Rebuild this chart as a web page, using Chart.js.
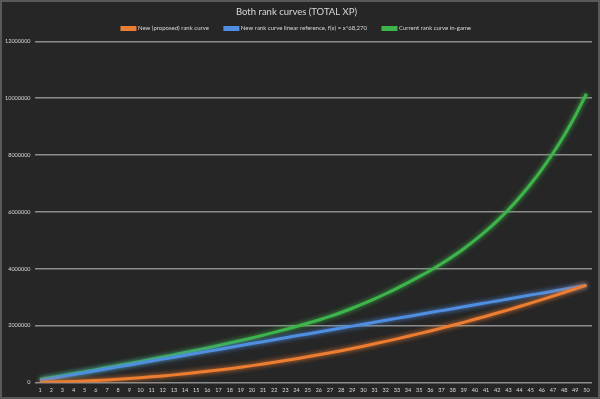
<!DOCTYPE html>
<html>
<head>
<meta charset="utf-8">
<script src="https://cdn.jsdelivr.net/npm/chart.js@4.4.1/dist/chart.umd.min.js"></script>
<style>
  html, body { margin: 0; padding: 0; background: #262626; }
  #wrap { width: 600px; height: 399px; }
</style>
</head>
<body>
<div id="wrap"><canvas id="rankChart"></canvas></div>
<script>
// levels 1..50
const levels = Array.from({ length: 50 }, (_, i) => String(i + 1));

// total XP
const newCurve = [
  5000, 12000, 22000, 35000, 50000, 68000, 88000, 111000, 137000, 165000,
  196000, 229000, 265000, 304000, 345000, 389000, 435000, 484000, 536000, 590000,
  647000, 706000, 768000, 833000, 900000, 970000, 1042000, 1117000, 1195000, 1275000,
  1358000, 1443000, 1531000, 1622000, 1715000, 1811000, 1909000, 2010000, 2114000, 2220000,
  2329000, 2440000, 2554000, 2671000, 2790000, 2912000, 3036000, 3163000, 3293000, 3425000,
];

// f(x) = x*68,270
const linearRef = [
  68270, 136540, 204810, 273080, 341350, 409620, 477890, 546160, 614430, 682700,
  750970, 819240, 887510, 955780, 1024050, 1092320, 1160590, 1228860, 1297130, 1365400,
  1433670, 1501940, 1570210, 1638480, 1706750, 1775020, 1843290, 1911560, 1979830, 2048100,
  2116370, 2184640, 2252910, 2321180, 2389450, 2457720, 2525990, 2594260, 2662530, 2730800,
  2799070, 2867340, 2935610, 3003880, 3072150, 3140420, 3208690, 3276960, 3345230, 3413500,
];

const currentCurve = [
  100000, 169000, 238000, 308000, 378000, 449000, 521000, 593000, 666000, 740000,
  816000, 892000, 970000, 1049000, 1130000, 1212000, 1297000, 1384000, 1473000, 1565000,
  1661000, 1759000, 1862000, 1969000, 2081000, 2198000, 2321000, 2460000, 2610000, 2770000,
  2940000, 3120000, 3310000, 3510000, 3720000, 3940000, 4175000, 4430000, 4705000, 5005000,
  5330000, 5685000, 6075000, 6505000, 6980000, 7500000, 8065000, 8690000, 9385000, 10157000,
];

const yTicks = [0, 2000000, 4000000, 6000000, 8000000, 10000000, 12000000];

const textColor = "#d9d9d9";
const fontFamily = "Lato, 'Open Sans', sans-serif";

// dark background + frame, like the excel export
const bgPlugin = {
  id: "bg",
  beforeDraw(chart) {
    const ctx = chart.ctx;
    ctx.save();
    ctx.fillStyle = "#262626";
    ctx.fillRect(0, 0, chart.width, chart.height);
    ctx.strokeStyle = "#595959";
    ctx.lineWidth = 2;
    ctx.strokeRect(1, 1, chart.width - 2, chart.height - 2);
    ctx.restore();
  },
};

// soft glow round each line
const glowPlugin = {
  id: "glow",
  beforeDatasetDraw(chart, args) {
    const ctx = chart.ctx;
    ctx.save();
    ctx.shadowColor = args.meta._dataset.borderColor;
    ctx.shadowBlur = 5;
  },
  afterDatasetDraw(chart) {
    chart.ctx.restore();
  },
};

const lineStyle = {
  borderWidth: 3,
  pointRadius: 0,
  cubicInterpolationMode: "monotone",
};

new Chart("rankChart", {
  type: "line",
  data: {
    labels: levels,
    datasets: [
      {
        label: "New (proposed) rank curve",
        data: newCurve,
        borderColor: "#ed7d31",
        backgroundColor: "#ed7d31",
        ...lineStyle,
      },
      {
        label: "New rank curve linear reference, f(x) = x*68,270",
        data: linearRef,
        borderColor: "#4f8ee0",
        backgroundColor: "#4f8ee0",
        ...lineStyle,
      },
      {
        label: "Current rank curve in-game",
        data: currentCurve,
        borderColor: "#3db54a",
        backgroundColor: "#3db54a",
        ...lineStyle,
      },
    ],
  },
  options: {
    responsive: true,
    maintainAspectRatio: false,
    animation: false,
    layout: { padding: { left: 1, right: 8, top: 0, bottom: 0 } },
    plugins: {
      title: {
        display: true,
        text: "Both rank curves (TOTAL XP)",
        color: textColor,
        font: { family: fontFamily, size: 9.5, weight: "normal" },
        padding: { top: 6, bottom: -8 },
      },
      legend: {
        display: true,
        labels: {
          color: textColor,
          font: { family: fontFamily, size: 6 },
          boxWidth: 13,
          boxHeight: 2,
          padding: 16,
        },
      },
      tooltip: { enabled: false },
    },
    scales: {
      y: {
        min: 0,
        max: 12000000,
        afterBuildTicks(axis) {
          axis.ticks = yTicks.map((v) => ({ value: v }));
        },
        ticks: {
          color: textColor,
          font: { family: fontFamily, size: 5.5 },
          padding: 4,
          callback: (v) => String(v),
        },
        grid: { color: "#8c8c8c", lineWidth: 1.5, drawTicks: false },
        border: { display: false },
      },
      x: {
        offset: true,
        ticks: {
          color: textColor,
          font: { family: fontFamily, size: 5.5 },
          maxRotation: 0,
          autoSkip: false,
          padding: 5,
        },
        grid: { display: false, drawTicks: false },
        border: { display: false },
      },
    },
  },
  plugins: [bgPlugin, glowPlugin],
});
</script>
</body>
</html>
